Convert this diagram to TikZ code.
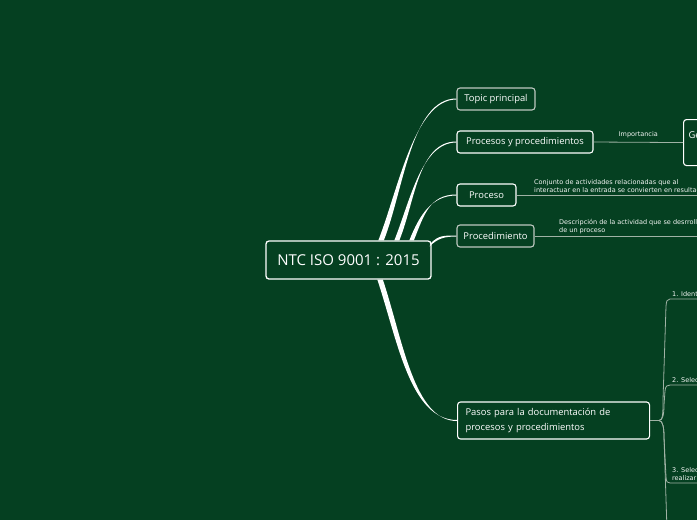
\documentclass[tikz,border=0pt]{standalone}
\usepackage{fontspec}
\setmainfont{Open Sans}
\newfontfamily\smallfont{DejaVu Sans}
\usetikzlibrary{calc}
\definecolor{bg}{RGB}{5,64,33}
\definecolor{thinc}{RGB}{160,178,165}
\definecolor{dimw}{RGB}{190,200,192}
\begin{document}
\begin{tikzpicture}[x=1pt,y=-1pt,
  box/.style={draw=white, fill=bg, rounded corners=3pt, line width=1.1pt, text=white,
    font=\fontsize{9.4}{15}\selectfont, inner xsep=5pt, inner ysep=2pt, minimum height=22pt},
  rootbox/.style={box, line width=1.3pt, font=\fontsize{15}{17}\selectfont},
  thinline/.style={draw=thinc, line width=0.8pt},
  smalltext/.style={text=white!95!bg, font=\smallfont\fontsize{6.5}{8}\selectfont, inner sep=0pt, align=left},
  taper/.style={fill=white, draw=none}
]
\fill[bg] (0,0) rectangle (697,520);
\useasboundingbox (0,0) rectangle (697,520);
\clip (0,0) rectangle (697,520);

% nodes
\node[rootbox, minimum width=165pt, minimum height=38pt] (root) at (348.5,260) {NTC ISO 9001 : 2015};
\node[box, draw=dimw, minimum width=78pt] (topic) at (496,99) {Topic principal};
\node[box, minimum width=136pt] (procs) at (525,142) {Procesos y procedimientos};
\node[box, minimum width=59pt] (proceso) at (486.5,195) {Proceso};
\node[box, draw=dimw, minimum width=77pt] (proced) at (495.5,236) {Procedimiento};
\node[box, anchor=west, text width=176pt, align=left, inner xsep=8pt, inner ysep=4pt, minimum height=37pt] (pasos) at (457,420.5)
  {Pasos para la documentación de\\procesos y procedimientos};
\node[box, anchor=north west, text width=70pt, align=left, minimum height=46pt, inner xsep=5pt] (ge) at (683,119)
  {Gestión\\ \mbox{}};

% tapered main connectors
\coordinate (r1) at ($(root.north west)+(113,0)$);
\coordinate (r2) at ($(root.north west)+(129,0)$);
\coordinate (r3) at ($(root.north west)+(144,0)$);
\coordinate (r4) at ($(root.north east)+(-2,6)$);
\coordinate (r5) at ($(root.south west)+(112,0)$);

\fill[taper] (r1) .. controls +(20,-51) and +(-42,0) .. ([yshift=-0.5pt]topic.west)
  -- ([yshift=0.5pt]topic.west) .. controls +(-45,0) and +(20,-51) .. ([xshift=5.5pt]r1) -- cycle;
\fill[taper] (r2) .. controls +(16,-40) and +(-35,0) .. ([yshift=-0.5pt]procs.west)
  -- ([yshift=0.5pt]procs.west) .. controls +(-38,0) and +(16,-40) .. ([xshift=5pt]r2) -- cycle;
\fill[taper] (r3) .. controls +(10,-25) and +(-25,0) .. ([yshift=-0.5pt]proceso.west)
  -- ([yshift=0.5pt]proceso.west) .. controls +(-27,0) and +(10,-25) .. ([xshift=4.5pt]r3) -- cycle;
\fill[taper] (r4) .. controls +(8,-8) and +(-12,0) .. ([yshift=-0.5pt]proced.west)
  -- ([yshift=0.5pt]proced.west) .. controls +(-13,0) and +(8,-8) .. ([shift={(1pt,3pt)}]r4) -- cycle;
\fill[taper] (r5) .. controls +(20,60) and +(-47,0) .. ([yshift=0.5pt]pasos.west)
  -- ([yshift=-0.5pt]pasos.west) .. controls +(-43,0) and +(20,60) .. ([xshift=5.5pt]r5) -- cycle;

% Importancia
\draw[thinline] (procs.east) -- node[smalltext, above=4pt] {Importancia} (ge.west);

% Proceso description
\coordinate (e1) at (700,195);
\draw[thinline] (proceso.east) -- (e1);
\node[smalltext, anchor=south west] (t1) at (534,193)
  {Conjunto de actividades relacionadas que al\\interactuar en la entrada se convierten en resultados};

% Procedimiento description
\coordinate (e2) at (700,236);
\draw[thinline] (proced.east) -- (e2);
\node[smalltext, anchor=south west] (t2) at (559,234)
  {Descripción de la actividad que se desrrolla\\de un proceso};

% Pasos branches
\coordinate (pj) at ($(pasos.east)+(9,0)$);
\coordinate (b1) at (700,299);
\coordinate (b2) at (700,385);
\coordinate (b3) at (700,483);
\coordinate (b4) at (667,530);
\draw[thinline] (pasos.east) -- (pj);
\draw[thinline] (pj) .. controls +(4,0) and +(0,12) .. (663,400) -- (666,306)
  .. controls +(0.5,-5) and +(-3,0) .. (670,299) -- (b1);
\draw[thinline] (pj) .. controls +(4,0) and +(0,8) .. (664,405) -- (665,391)
  .. controls +(0.5,-5) and +(-3,0) .. (670,385) -- (b2);
\draw[thinline] (pj) .. controls +(4,0) and +(0,-8) .. (664,437) -- (666,477)
  .. controls +(0.5,5) and +(-3,0) .. (670,483) -- (b3);
\draw[thinline] (pj) .. controls +(4,0) and +(0,-8) .. (664,437) -- (b4);

\node[smalltext, anchor=south west] (l1) at (672,297) {1. Identificar};
\node[smalltext, anchor=south west] (l2) at (672,383) {2. Seleccionar};
\node[smalltext, anchor=south west] (l3) at (672,481) {3. Seleccionar\\realizar};
\end{tikzpicture}
\end{document}
